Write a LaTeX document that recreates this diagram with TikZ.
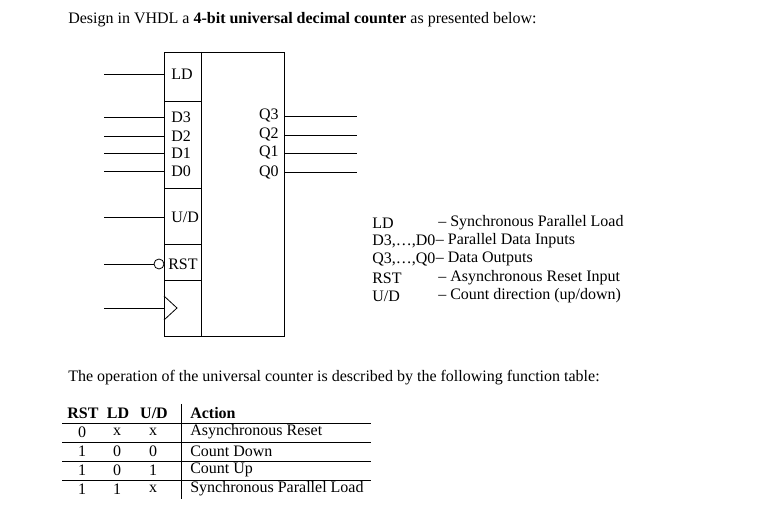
\documentclass[tikz,border=0pt]{standalone}
\usepackage{fontspec}
\setmainfont{Liberation Serif}
\begin{document}
\begin{tikzpicture}[x=0.75pt,y=-0.75pt,font=\fontsize{12}{14}\selectfont,
 lbl/.style={inner sep=0pt,anchor=west},
 wire/.style={line width=0.6pt}]
\useasboundingbox (0,0) rectangle (761,520);
\node[lbl] (title) at (68,20) {Design in VHDL a \textbf{4-bit universal decimal counter} as presented below:};
% block
\draw[wire] (164,52) rectangle (284,336);
\draw[wire] (201,52) -- (201,336);
\foreach \y in {101,188,244,280} \draw[wire] (164,\y) -- (201,\y);
\foreach \n/\t/\y in {ld/LD/74,d3/D3/117,d2/D2/136,d1/D1/153,d0/D0/171,ud/{U\slash D}/217}{
 \node[lbl] (\n) at (171,\y) {\t};
 \coordinate (\n w) at (104,\y); \coordinate (\n e) at (164,\y);
 \draw[wire] (\n w) -- (\n e);}
\node[lbl] (rst) at (168,264) {RST};
\node[circle,draw,line width=0.6pt,minimum size=7.5pt,inner sep=0pt] (bub) at (159,264) {};
\coordinate (rstw) at (104,264);
\draw[wire] (rstw) -- (bub.west);
\coordinate (clkw) at (104,308); \coordinate (clke) at (164,308);
\draw[wire] (clkw) -- (clke);
\draw[wire] (164,296) -- (177,308) -- (164,320);
\foreach \n/\y in {3/116,2/135,1/153,0/172}{
 \node[inner sep=0pt,anchor=east] (q\n) at (279,\y) {Q\n};
 \coordinate (q\n a) at (284,\y); \coordinate (q\n b) at (357,\y);
 \draw[wire] (q\n a) -- (q\n b);}
% legend
\node[lbl] (la) at (372,223) {LD};
\node[lbl] (lb) at (372,241) {D3,\dots,D0};
\node[lbl] (lc) at (372,259) {Q3,\dots,Q0};
\node[lbl] (ld2) at (372,278) {RST};
\node[lbl] (le) at (372,296) {U\slash D};
\node[lbl] at (438,223) {\textendash{} Synchronous Parallel Load};
\node[lbl] at (lb.east) {\textendash{} Parallel Data Inputs};
\node[lbl] at (lc.east) {\textendash{} Data Outputs};
\node[lbl] at (438,278) {\textendash{} Asynchronous Reset Input};
\node[lbl] at (438,296) {\textendash{} Count direction (up/down)};
\node[lbl] (op) at (68,378) {The operation of the universal counter is described by the following function table:};
% table
\node (h1) at (83,413) {\textbf{RST}};
\node (h2) at (118,413) {\textbf{LD}};
\node (h3) at (154,413) {\textbf{U/D}};
\node[lbl] (h4) at (190,413) {\textbf{Action}};
\foreach \y in {423,442,461,480} \draw[line width=0.6pt] (62,\y) -- (371,\y);
\draw[line width=0.6pt] (181,404) -- (181,499);
\foreach \y/\a/\b/\c/\t in {432/0/x/x/Asynchronous Reset,451/1/0/0/Count Down,470/1/0/1/Count Up,489/1/1/x/Synchronous Parallel Load}{
 \node at (82,\y) {\a}; \node at (117,\y) {\b}; \node at (153,\y) {\c};
 \node[lbl] at (190,\y) {\t};}
\end{tikzpicture}
\end{document}
